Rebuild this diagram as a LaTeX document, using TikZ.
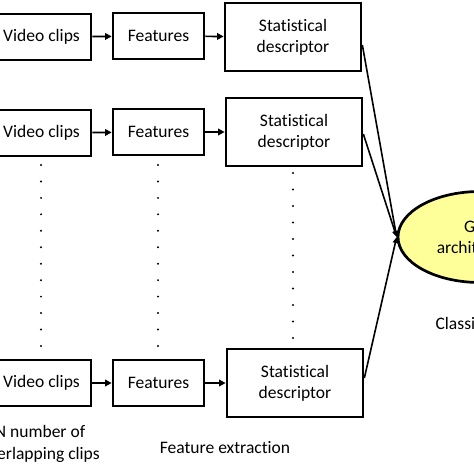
\documentclass[tikz,border=0pt]{standalone}
\usepackage{fontspec}
\setmainfont{Carlito}[Ligatures={NoCommon}]
\usetikzlibrary{arrows.meta,shapes.geometric,calc}
\definecolor{lightyel}{RGB}{255,255,153}
\tikzset{
  stepbox/.style={draw, line width=2.7bp, inner sep=0pt, align=center,
    font=\fontsize{17.6}{21}\selectfont},
  lbl/.style={inner sep=0pt, align=center, font=\fontsize{17.6}{22}\selectfont},
  arr/.style={line width=1.7bp, -{Triangle[length=6.5bp,width=6.5bp]}},
  conv/.style={line width=1.6bp, -{Triangle[length=6bp,width=5bp]}},
  dotm/.style={fill=black}
}
\begin{document}
\begin{tikzpicture}[x=1bp,y=-1bp]
\useasboundingbox (0,0) rectangle (474,474);
\clip (0,0) rectangle (474,474);
% row 1
\node[stepbox, minimum width=99bp, minimum height=46bp] (v1) at (41.5,37) {Video clips};
\node[stepbox, minimum width=91bp, minimum height=46bp] (f1) at (158.5,36) {Features};
\node[stepbox, minimum width=136bp, minimum height=68bp] (s1) at (293,37) {Statistical\\descriptor};
% row 2
\node[stepbox, minimum width=99bp, minimum height=46bp] (v2) at (41.5,133) {Video clips};
\node[stepbox, minimum width=91bp, minimum height=46bp] (f2) at (158.5,132) {Features};
\node[stepbox, minimum width=136bp, minimum height=68bp] (s2) at (294,132) {Statistical\\descriptor};
% row 3
\node[stepbox, minimum width=99bp, minimum height=46bp] (v3) at (41.5,383) {Video clips};
\node[stepbox, minimum width=91bp, minimum height=46bp] (f3) at (158.5,383) {Features};
\node[stepbox, minimum width=136bp, minimum height=68bp] (s3) at (295,383) {Statistical\\descriptor};
% classifier
\node[draw, ellipse, line width=2.7bp, fill=lightyel, minimum width=164bp, minimum height=91bp,
  inner sep=0pt, align=center, font=\fontsize{17.6}{21}\selectfont] (e) at (480,237) {GRU\\architecture};
% arrows
\foreach \r in {1,2,3}{
  \draw[arr] (v\r) -- (f\r);
  \draw[arr] (f\r) -- (s\r);
}
\draw[conv] ($(s1.east)+(0,8)$) -- (e.west);
\draw[conv] ($(s2.east)+(0,2)$) -- (e.west);
\draw[conv] ($(s3.east)+(0,-5)$) -- (e.west);
% dots
\foreach \i in {0,...,11}{
  \fill[dotm] (41,165+16.45*\i) circle (1.1bp);
  \fill[dotm] (158,165+16.45*\i) circle (1.1bp);
}
\foreach \i in {0,...,10}{
  \fill[dotm] (293,173+16.5*\i) circle (1.1bp);
}
% labels
\node[lbl] (l1) at (40,444) {N number of\\overlapping clips};
\node[lbl] (l2) at (225,448) {Feature extraction};
\node[lbl] (l3) at (482,323) {Classification};
\end{tikzpicture}
\end{document}
